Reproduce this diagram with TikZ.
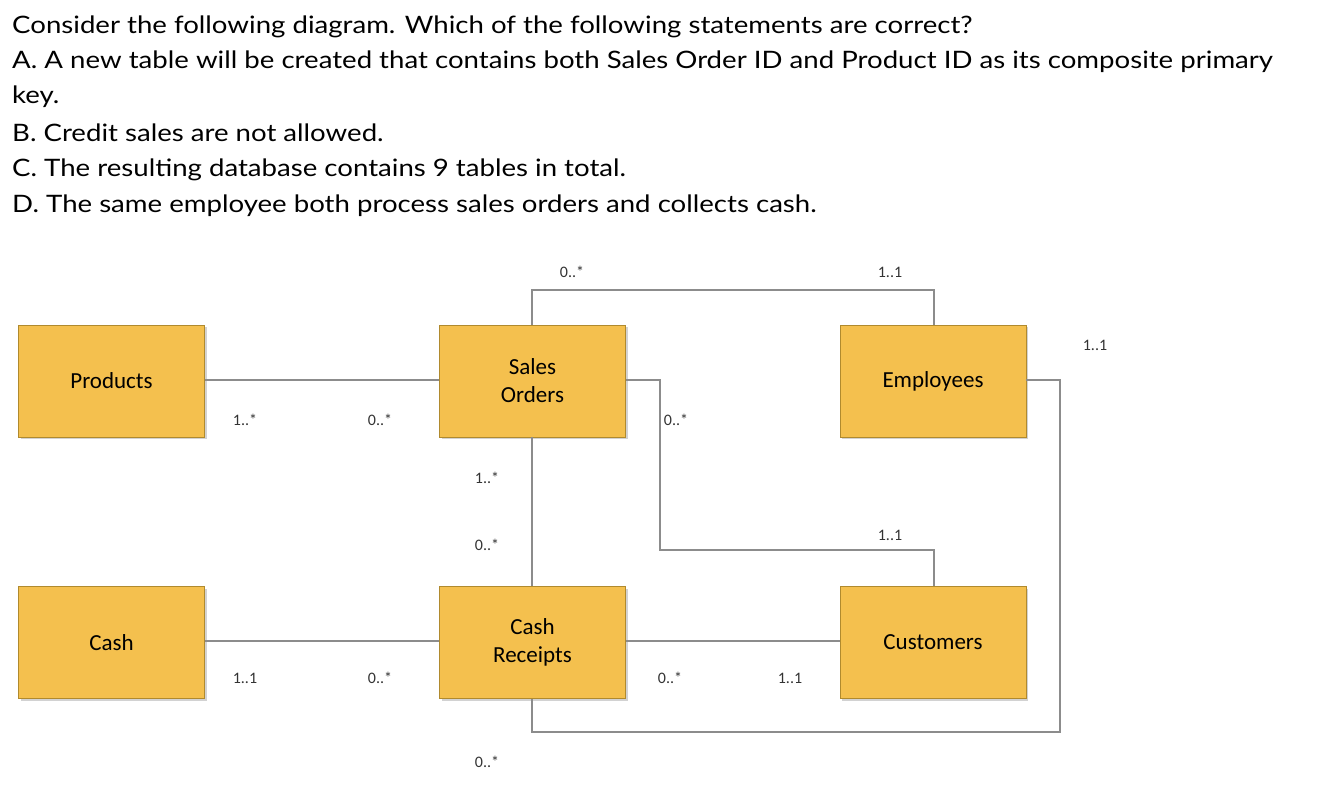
\documentclass[tikz,border=0pt]{standalone}
\usepackage{fontspec}
\setmainfont[FakeStretch=1.15]{Lato}
\newfontfamily\diag{Carlito}
\usetikzlibrary{shadows}
\begin{document}
\begin{tikzpicture}[x=1pt,y=-1pt]
\definecolor{boxfill}{HTML}{F4C04E}
\definecolor{boxedge}{HTML}{B08A2E}
\definecolor{ln}{HTML}{8C8C8C}
\tikzset{
  ent/.style={draw=boxedge,fill=boxfill,minimum width=186pt,minimum height=112pt,inner sep=0pt,font=\diag\fontsize{23}{28}\selectfont,align=center,
    drop shadow={shadow xshift=2pt,shadow yshift=-2pt,fill=black!35}},
  rel/.style={draw=ln,line width=1.2pt},
  card/.style={font=\diag\fontsize{16}{18}\selectfont,text=black!80},
  qline/.style={anchor=west,font=\fontsize{24}{28}\selectfont,inner sep=0pt}
}
\useasboundingbox (0,0) rectangle (1336,790);
\node[qline] (q0) at (12,27) {Consider the following diagram. Which of the following statements are correct?};
\node[qline] (q1) at (12,62) {A. A new table will be created that contains both Sales Order ID and Product ID as its composite primary};
\node[qline] (q2) at (12,97) {key.};
\node[qline] (q3) at (12,133) {B. Credit sales are not allowed.};
\node[qline] (q4) at (12,170) {C. The resulting database contains 9 tables in total.};
\node[qline] (q5) at (12,206) {D. The same employee both process sales orders and collects cash.};

\node[ent] (prod) at (111.5,381) {Products};
\node[ent] (so) at (532.5,381) {Sales\\Orders};
\node[ent] (emp) at (933,381) {Employees};
\node[ent] (cash) at (111.5,642.5) {Cash};
\node[ent] (cr) at (532.5,642.5) {Cash\\Receipts};
\node[ent] (cust) at (933,642.5) {Customers};

\coordinate (a1) at (532,290); \coordinate (a2) at (934,290);
\coordinate (b1) at (660,380); \coordinate (b2) at (660,550); \coordinate (b3) at (934,550);
\coordinate (c1) at (1060,380); \coordinate (c2) at (1060,732); \coordinate (c3) at (532,732);

\draw[rel] (prod.east |- 0,380) -- (so.west |- 0,380);
\draw[rel] (so.north -| a1) -- (a1) -- (a2) -- (emp.north -| a2);
\draw[rel] (so.east |- b1) -- (b1) -- (b2) -- (b3) -- (cust.north -| b3);
\draw[rel] (so.south -| a1) -- (cr.north -| a1);
\draw[rel] (cash.east |- 0,641) -- (cr.west |- 0,641);
\draw[rel] (cr.east |- 0,641) -- (cust.west |- 0,641);
\draw[rel] (emp.east |- c1) -- (c1) -- (c2) -- (c3) -- (cr.south -| c3);

\node[card] (l1) at (572,272) {0..*};
\node[card] (l2) at (890,272) {1..1};
\node[card] (l3) at (1095,345) {1..1};
\node[card] (l4) at (245,420) {1..*};
\node[card] (l5) at (380,420) {0..*};
\node[card] (l6) at (676,420) {0..*};
\node[card] (l7) at (487,478) {1..*};
\node[card] (l8) at (487,545) {0..*};
\node[card] (l9) at (890,535) {1..1};
\node[card] (l10) at (245,678) {1..1};
\node[card] (l11) at (380,678) {0..*};
\node[card] (l12) at (670,678) {0..*};
\node[card] (l13) at (790,678) {1..1};
\node[card] (l14) at (487,762) {0..*};
\end{tikzpicture}
\end{document}
